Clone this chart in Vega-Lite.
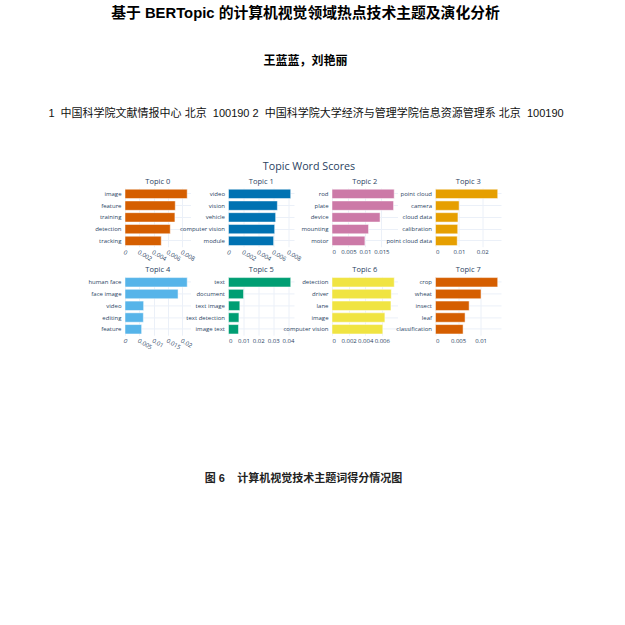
{
  "$schema": "https://vega.github.io/schema/vega-lite/v6.json",
  "padding": 0,
  "background": "white",
  "spacing": 2,
  "datasets": {
    "scores": [
      {"topic": "Topic 0", "word": "image", "score": 0.0087},
      {"topic": "Topic 0", "word": "feature", "score": 0.00703},
      {"topic": "Topic 0", "word": "training", "score": 0.00698},
      {"topic": "Topic 0", "word": "detection", "score": 0.00633},
      {"topic": "Topic 0", "word": "tracking", "score": 0.00507},
      {"topic": "Topic 1", "word": "video", "score": 0.0083},
      {"topic": "Topic 1", "word": "vision", "score": 0.00652},
      {"topic": "Topic 1", "word": "vehicle", "score": 0.00629},
      {"topic": "Topic 1", "word": "computer vision", "score": 0.00616},
      {"topic": "Topic 1", "word": "module", "score": 0.00602},
      {"topic": "Topic 2", "word": "rod", "score": 0.0189},
      {"topic": "Topic 2", "word": "plate", "score": 0.0187},
      {"topic": "Topic 2", "word": "device", "score": 0.0146},
      {"topic": "Topic 2", "word": "mounting", "score": 0.0111},
      {"topic": "Topic 2", "word": "motor", "score": 0.0100},
      {"topic": "Topic 3", "word": "point cloud", "score": 0.0266},
      {"topic": "Topic 3", "word": "camera", "score": 0.0101},
      {"topic": "Topic 3", "word": "cloud data", "score": 0.0096},
      {"topic": "Topic 3", "word": "calibration", "score": 0.0095},
      {"topic": "Topic 3", "word": "point cloud data", "score": 0.0093},
      {"topic": "Topic 4", "word": "human face", "score": 0.0217},
      {"topic": "Topic 4", "word": "face image", "score": 0.0185},
      {"topic": "Topic 4", "word": "video", "score": 0.0065},
      {"topic": "Topic 4", "word": "editing", "score": 0.0064},
      {"topic": "Topic 4", "word": "feature", "score": 0.0058},
      {"topic": "Topic 5", "word": "text", "score": 0.0418},
      {"topic": "Topic 5", "word": "document", "score": 0.0101},
      {"topic": "Topic 5", "word": "text image", "score": 0.0076},
      {"topic": "Topic 5", "word": "text detection", "score": 0.0070},
      {"topic": "Topic 5", "word": "image text", "score": 0.0067},
      {"topic": "Topic 6", "word": "detection", "score": 0.0075},
      {"topic": "Topic 6", "word": "driver", "score": 0.00714},
      {"topic": "Topic 6", "word": "lane", "score": 0.0071},
      {"topic": "Topic 6", "word": "image", "score": 0.00637},
      {"topic": "Topic 6", "word": "computer vision", "score": 0.00612},
      {"topic": "Topic 7", "word": "crop", "score": 0.0138},
      {"topic": "Topic 7", "word": "wheat", "score": 0.0101},
      {"topic": "Topic 7", "word": "insect", "score": 0.00746},
      {"topic": "Topic 7", "word": "leaf", "score": 0.00656},
      {"topic": "Topic 7", "word": "classification", "score": 0.00612}
    ]
  },
  "vconcat": [
    {
      "width": 611, "height": 42,
      "data": {"values": [{"line": "基于 BERTopic 的计算机视觉领域热点技术主题及演化分析"}]},
      "mark": {"type": "text", "font": "Liberation Sans, Noto Sans CJK SC", "fontSize": 14.8, "fontWeight": "bold", "baseline": "bottom", "color": "#000"},
      "encoding": {"text": {"field": "line"}}
    },
    {
      "width": 611, "height": 34,
      "data": {"values": [{"line": "王蓝蓝，刘艳丽"}]},
      "mark": {"type": "text", "font": "Liberation Sans, Noto Sans CJK SC", "fontSize": 12, "fontWeight": "bold", "baseline": "middle", "color": "#000"},
      "encoding": {"text": {"field": "line"}}
    },
    {
      "width": 612, "height": 77.4,
      "data": {"values": [{"line": "1\u00a0\u00a0中国科学院文献情报中心 北京\u00a0\u00a0100190 2\u00a0\u00a0中国科学院大学经济与管理学院信息资源管理系 北京\u00a0\u00a0100190"}]},
      "mark": {"type": "text", "font": "Liberation Sans, Noto Sans CJK SC", "fontSize": 11, "baseline": "bottom", "color": "#111"},
      "encoding": {"text": {"field": "line"}}
    },
    {
      "width": 618, "height": 14.2,
      "data": {"values": [{"line": "Topic Word Scores"}]},
      "mark": {"type": "text", "font": "Open Sans", "fontSize": 10.7, "baseline": "middle", "color": "#2a3f5f"},
      "encoding": {"text": {"field": "line"}}
    },
    {
      "spacing": 0,
      "hconcat": [
        {
          "width": 87, "height": 1,
          "data": {"values": [{"line": ""}]},
          "mark": {"type": "text"},
          "encoding": {"text": {"field": "line"}}
        },
        {
          "columns": 4,
          "bounds": "flush",
          "spacing": {"row": 29.4, "column": 37.5},
          "concat": [
            {
              "title": "Topic 0", "width": 65.5, "height": 58.75,
              "data": {"name": "scores"},
              "transform": [{"filter": "datum.topic === 'Topic 0'"}],
              "mark": {"type": "bar", "color": "#D55E00", "stroke": "white", "strokeWidth": 0.5},
              "encoding": {
                "y": {"field": "word", "type": "nominal", "sort": "-x", "title": null},
                "x": {"field": "score", "type": "quantitative", "title": null, "scale": {"domain": [0, 0.00916], "nice": false},
                      "axis": {"values": [0, 0.002, 0.004, 0.006, 0.008], "labelAngle": 30}}
              }
            },
            {
              "title": "Topic 1", "width": 65.5, "height": 58.75,
              "data": {"name": "scores"},
              "transform": [{"filter": "datum.topic === 'Topic 1'"}],
              "mark": {"type": "bar", "color": "#0072B2", "stroke": "white", "strokeWidth": 0.5},
              "encoding": {
                "y": {"field": "word", "type": "nominal", "sort": "-x", "title": null},
                "x": {"field": "score", "type": "quantitative", "title": null, "scale": {"domain": [0, 0.00874], "nice": false},
                      "axis": {"values": [0, 0.002, 0.004, 0.006, 0.008], "labelAngle": 30}}
              }
            },
            {
              "title": "Topic 2", "width": 65.5, "height": 58.75,
              "data": {"name": "scores"},
              "transform": [{"filter": "datum.topic === 'Topic 2'"}],
              "mark": {"type": "bar", "color": "#CC79A7", "stroke": "white", "strokeWidth": 0.5},
              "encoding": {
                "y": {"field": "word", "type": "nominal", "sort": "-x", "title": null},
                "x": {"field": "score", "type": "quantitative", "title": null, "scale": {"domain": [0, 0.0199], "nice": false},
                      "axis": {"values": [0, 0.005, 0.01, 0.015]}}
              }
            },
            {
              "title": "Topic 3", "width": 65.5, "height": 58.75,
              "data": {"name": "scores"},
              "transform": [{"filter": "datum.topic === 'Topic 3'"}],
              "mark": {"type": "bar", "color": "#E69F00", "stroke": "white", "strokeWidth": 0.5},
              "encoding": {
                "y": {"field": "word", "type": "nominal", "sort": "-x", "title": null},
                "x": {"field": "score", "type": "quantitative", "title": null, "scale": {"domain": [0, 0.028], "nice": false},
                      "axis": {"values": [0, 0.01, 0.02]}}
              }
            },
            {
              "title": "Topic 4", "width": 65.5, "height": 58.75,
              "data": {"name": "scores"},
              "transform": [{"filter": "datum.topic === 'Topic 4'"}],
              "mark": {"type": "bar", "color": "#56B4E9", "stroke": "white", "strokeWidth": 0.5},
              "encoding": {
                "y": {"field": "word", "type": "nominal", "sort": "-x", "title": null},
                "x": {"field": "score", "type": "quantitative", "title": null, "scale": {"domain": [0, 0.02284], "nice": false},
                      "axis": {"values": [0, 0.005, 0.01, 0.015, 0.02], "labelAngle": 30}}
              }
            },
            {
              "title": "Topic 5", "width": 65.5, "height": 58.75,
              "data": {"name": "scores"},
              "transform": [{"filter": "datum.topic === 'Topic 5'"}],
              "mark": {"type": "bar", "color": "#009E73", "stroke": "white", "strokeWidth": 0.5},
              "encoding": {
                "y": {"field": "word", "type": "nominal", "sort": "-x", "title": null},
                "x": {"field": "score", "type": "quantitative", "title": null, "scale": {"domain": [0, 0.044], "nice": false},
                      "axis": {"values": [0, 0.01, 0.02, 0.03, 0.04]}}
              }
            },
            {
              "title": "Topic 6", "width": 65.5, "height": 58.75,
              "data": {"name": "scores"},
              "transform": [{"filter": "datum.topic === 'Topic 6'"}],
              "mark": {"type": "bar", "color": "#F0E442", "stroke": "white", "strokeWidth": 0.5},
              "encoding": {
                "y": {"field": "word", "type": "nominal", "sort": "-x", "title": null},
                "x": {"field": "score", "type": "quantitative", "title": null, "scale": {"domain": [0, 0.00789], "nice": false},
                      "axis": {"values": [0, 0.002, 0.004, 0.006]}}
              }
            },
            {
              "title": "Topic 7", "width": 65.5, "height": 58.75,
              "data": {"name": "scores"},
              "transform": [{"filter": "datum.topic === 'Topic 7'"}],
              "mark": {"type": "bar", "color": "#D55E00", "stroke": "white", "strokeWidth": 0.5},
              "encoding": {
                "y": {"field": "word", "type": "nominal", "sort": "-x", "title": null},
                "x": {"field": "score", "type": "quantitative", "title": null, "scale": {"domain": [0, 0.01453], "nice": false},
                      "axis": {"values": [0, 0.005, 0.01]}}
              }
            }
          ]
        }
      ]
    },
    {
      "width": 607, "height": 254,
      "data": {"values": [{"line": "图 6\u00a0\u00a0\u00a0\u00a0计算机视觉技术主题词得分情况图"}]},
      "mark": {"type": "text", "font": "Liberation Sans, Noto Sans CJK SC", "fontSize": 11, "fontWeight": "bold", "baseline": "middle", "color": "#222"},
      "encoding": {"text": {"field": "line"}}
    }
  ],
  "config": {
    "view": {"stroke": null},
    "scale": {"bandPaddingInner": 0.2, "bandPaddingOuter": 0.1},
    "title": {"font": "Open Sans", "fontSize": 7.5, "fontWeight": "normal", "color": "#2a3f5f", "offset": 3, "baseline": "bottom", "anchor": "middle"},
    "axis": {"domain": false, "ticks": false, "grid": true, "gridColor": "#EBF0F8", "gridWidth": 1, "labelFont": "Open Sans", "labelFontSize": 6, "labelColor": "#2a3f5f"},
    "axisX": {"labelPadding": 2, "format": "~g", "labelOverlap": false},
    "axisY": {"labelPadding": 4, "bandPosition": 0.5}
  }
}
